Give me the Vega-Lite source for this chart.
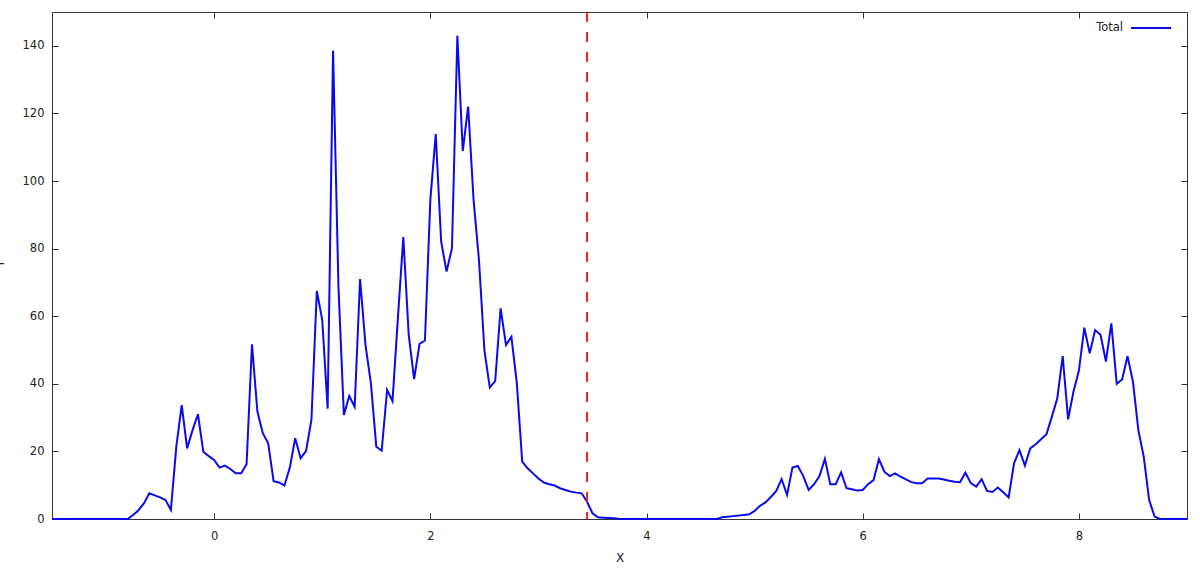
{
  "$schema": "https://vega.github.io/schema/vega-lite/v6.json",
  "width": 1135,
  "height": 507,
  "autosize": {"type": "none"},
  "padding": {"left": 52, "top": 12, "right": 13, "bottom": 53},
  "background": "white",
  "config": {
    "view": {"stroke": "#333333", "strokeWidth": 1},
    "font": "DejaVu Sans",
    "axis": {
      "grid": false,
      "domain": false,
      "labelFont": "DejaVu Sans",
      "labelFontSize": 11.5,
      "labelColor": "#222222",
      "tickColor": "#333333",
      "tickWidth": 1,
      "titleFont": "DejaVu Sans",
      "titleFontWeight": "normal",
      "titleFontSize": 12,
      "titleColor": "#222222"
    },
    "legend": {"padding": 0}
  },
  "datasets": {
    "curve": [
      {"x": -1.5, "y": 0}, {"x": -0.8, "y": 0}, {"x": -0.75, "y": 1.2}, {"x": -0.7, "y": 2.6},
      {"x": -0.65, "y": 4.6}, {"x": -0.6, "y": 7.6}, {"x": -0.55, "y": 7.0}, {"x": -0.5, "y": 6.4},
      {"x": -0.45, "y": 5.6}, {"x": -0.4, "y": 2.7}, {"x": -0.35, "y": 21.4}, {"x": -0.3, "y": 33.7},
      {"x": -0.25, "y": 20.9}, {"x": -0.2, "y": 26.3}, {"x": -0.15, "y": 31.0}, {"x": -0.1, "y": 19.9},
      {"x": -0.05, "y": 18.6}, {"x": 0.0, "y": 17.5}, {"x": 0.05, "y": 15.2}, {"x": 0.1, "y": 15.8},
      {"x": 0.15, "y": 14.8}, {"x": 0.2, "y": 13.5}, {"x": 0.25, "y": 13.5}, {"x": 0.3, "y": 16.2},
      {"x": 0.35, "y": 51.7}, {"x": 0.4, "y": 31.8}, {"x": 0.45, "y": 25.4}, {"x": 0.5, "y": 22.4},
      {"x": 0.55, "y": 11.2}, {"x": 0.6, "y": 10.8}, {"x": 0.65, "y": 9.9}, {"x": 0.7, "y": 15.2},
      {"x": 0.75, "y": 23.9}, {"x": 0.8, "y": 18.0}, {"x": 0.85, "y": 20.1}, {"x": 0.9, "y": 29.3},
      {"x": 0.95, "y": 67.5}, {"x": 1.0, "y": 58.9}, {"x": 1.05, "y": 32.6}, {"x": 1.1, "y": 138.6},
      {"x": 1.15, "y": 68.8}, {"x": 1.2, "y": 30.8}, {"x": 1.25, "y": 36.4}, {"x": 1.3, "y": 33.2},
      {"x": 1.35, "y": 71.0}, {"x": 1.4, "y": 51.5}, {"x": 1.45, "y": 40.2}, {"x": 1.5, "y": 21.4},
      {"x": 1.55, "y": 20.2}, {"x": 1.6, "y": 38.2}, {"x": 1.65, "y": 34.9}, {"x": 1.7, "y": 59.5},
      {"x": 1.75, "y": 83.4}, {"x": 1.8, "y": 54.5}, {"x": 1.85, "y": 41.4}, {"x": 1.9, "y": 51.8},
      {"x": 1.95, "y": 52.8}, {"x": 2.0, "y": 94.4}, {"x": 2.05, "y": 113.9}, {"x": 2.1, "y": 82.1},
      {"x": 2.15, "y": 73.2}, {"x": 2.2, "y": 80.1}, {"x": 2.25, "y": 143.0}, {"x": 2.3, "y": 108.9},
      {"x": 2.35, "y": 122.0}, {"x": 2.4, "y": 94.4}, {"x": 2.45, "y": 76.6}, {"x": 2.5, "y": 50.0},
      {"x": 2.55, "y": 38.9}, {"x": 2.6, "y": 40.8}, {"x": 2.65, "y": 62.3}, {"x": 2.7, "y": 51.5},
      {"x": 2.75, "y": 53.9}, {"x": 2.8, "y": 40.2}, {"x": 2.85, "y": 17.0}, {"x": 2.9, "y": 15.0},
      {"x": 2.95, "y": 13.5}, {"x": 3.0, "y": 12.0}, {"x": 3.05, "y": 10.8}, {"x": 3.1, "y": 10.3},
      {"x": 3.15, "y": 9.9}, {"x": 3.2, "y": 9.1}, {"x": 3.25, "y": 8.6}, {"x": 3.3, "y": 8.1},
      {"x": 3.35, "y": 7.8}, {"x": 3.4, "y": 7.6}, {"x": 3.45, "y": 5.1}, {"x": 3.5, "y": 1.7},
      {"x": 3.55, "y": 0.5}, {"x": 3.6, "y": 0.4}, {"x": 3.65, "y": 0.3}, {"x": 3.7, "y": 0.2},
      {"x": 3.75, "y": 0}, {"x": 4.65, "y": 0}, {"x": 4.7, "y": 0.5}, {"x": 4.75, "y": 0.7},
      {"x": 4.8, "y": 0.85}, {"x": 4.85, "y": 1.0}, {"x": 4.9, "y": 1.2}, {"x": 4.95, "y": 1.4},
      {"x": 5.0, "y": 2.4}, {"x": 5.05, "y": 3.9}, {"x": 5.1, "y": 4.9}, {"x": 5.15, "y": 6.5},
      {"x": 5.2, "y": 8.3}, {"x": 5.25, "y": 11.8}, {"x": 5.3, "y": 7.1}, {"x": 5.35, "y": 15.2},
      {"x": 5.4, "y": 15.7}, {"x": 5.45, "y": 12.7}, {"x": 5.5, "y": 8.6}, {"x": 5.55, "y": 10.3},
      {"x": 5.6, "y": 12.7}, {"x": 5.65, "y": 17.8}, {"x": 5.7, "y": 10.3}, {"x": 5.75, "y": 10.3},
      {"x": 5.8, "y": 13.8}, {"x": 5.85, "y": 9.1}, {"x": 5.9, "y": 8.8}, {"x": 5.95, "y": 8.4},
      {"x": 6.0, "y": 8.6}, {"x": 6.05, "y": 10.3}, {"x": 6.1, "y": 11.5}, {"x": 6.15, "y": 17.7},
      {"x": 6.2, "y": 14.0}, {"x": 6.25, "y": 12.7}, {"x": 6.3, "y": 13.5}, {"x": 6.35, "y": 12.5},
      {"x": 6.4, "y": 11.7}, {"x": 6.45, "y": 10.9}, {"x": 6.5, "y": 10.6}, {"x": 6.55, "y": 10.6},
      {"x": 6.6, "y": 12.0}, {"x": 6.65, "y": 12.0}, {"x": 6.7, "y": 12.0}, {"x": 6.75, "y": 11.7},
      {"x": 6.8, "y": 11.3}, {"x": 6.85, "y": 11.0}, {"x": 6.9, "y": 10.9}, {"x": 6.95, "y": 13.7},
      {"x": 7.0, "y": 10.6}, {"x": 7.05, "y": 9.6}, {"x": 7.1, "y": 11.8}, {"x": 7.15, "y": 8.3},
      {"x": 7.2, "y": 8.0}, {"x": 7.25, "y": 9.3}, {"x": 7.3, "y": 7.9}, {"x": 7.35, "y": 6.4},
      {"x": 7.4, "y": 16.5}, {"x": 7.45, "y": 20.4}, {"x": 7.5, "y": 15.8}, {"x": 7.55, "y": 20.9},
      {"x": 7.6, "y": 22.1}, {"x": 7.65, "y": 23.6}, {"x": 7.7, "y": 25.1}, {"x": 7.75, "y": 30.3},
      {"x": 7.8, "y": 35.7}, {"x": 7.85, "y": 48.2}, {"x": 7.9, "y": 29.5}, {"x": 7.95, "y": 37.7},
      {"x": 8.0, "y": 43.9}, {"x": 8.05, "y": 56.6}, {"x": 8.1, "y": 49.0}, {"x": 8.15, "y": 55.9},
      {"x": 8.2, "y": 54.5}, {"x": 8.25, "y": 46.6}, {"x": 8.3, "y": 57.9}, {"x": 8.35, "y": 40.0},
      {"x": 8.4, "y": 41.3}, {"x": 8.45, "y": 48.2}, {"x": 8.5, "y": 40.6}, {"x": 8.55, "y": 26.3},
      {"x": 8.6, "y": 18.4}, {"x": 8.65, "y": 5.6}, {"x": 8.7, "y": 0.7}, {"x": 8.75, "y": 0},
      {"x": 9.0, "y": 0}
    ],
    "marker": [{"x": 3.45}]
  },
  "layer": [
    {
      "data": {"name": "curve"},
      "mark": {"type": "line", "strokeWidth": 2, "interpolate": "linear"},
      "encoding": {
        "x": {
          "field": "x", "type": "quantitative",
          "scale": {"domain": [-1.5, 9], "nice": false, "zero": false},
          "axis": {"orient": "bottom", "values": [0, 2, 4, 6, 8], "tickSize": -6, "labelPadding": 17, "title": "X", "titlePadding": 11}
        },
        "y": {
          "field": "y", "type": "quantitative",
          "scale": {"domain": [0, 150], "nice": false},
          "axis": {"orient": "left", "values": [0, 20, 40, 60, 80, 100, 120, 140], "tickSize": -6, "labelPadding": 14,
                   "title": "Y", "titleX": -49, "titleY": 251, "titleBaseline": "alphabetic", "titleAngle": 270}
        },
        "color": {
          "datum": "Total",
          "scale": {"range": ["#0a0aee"]},
          "legend": {"orient": "none", "legendX": 1078, "legendY": -5, "title": null, "symbolType": "stroke",
                     "symbolSize": 1600, "symbolStrokeWidth": 2, "labelAlign": "right", "labelOffset": -49,
                     "labelFontSize": 11.5, "labelFont": "DejaVu Sans", "labelColor": "#222222"}
        }
      }
    },
    {
      "data": {"name": "marker"},
      "mark": {"type": "rule", "color": "#ee2222", "strokeWidth": 2, "strokeDash": [10, 10]},
      "encoding": {
        "x": {"field": "x", "type": "quantitative",
              "axis": {"orient": "top", "values": [0, 2, 4, 6, 8], "labels": false, "tickSize": -6, "title": null}}
      }
    },
    {
      "data": {"name": "curve"},
      "mark": {"type": "line", "opacity": 0},
      "encoding": {
        "x": {"field": "x", "type": "quantitative", "axis": null},
        "y": {"field": "y", "type": "quantitative",
              "axis": {"orient": "right", "values": [0, 20, 40, 60, 80, 100, 120, 140], "labels": false, "tickSize": -6, "title": null}}
      }
    }
  ],
  "resolve": {"axis": {"x": "independent", "y": "independent"}}
}
